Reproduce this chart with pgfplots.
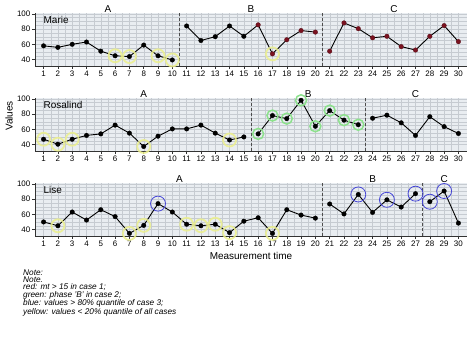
\documentclass[border=0pt]{standalone}
\usepackage{fontspec}
\setmainfont{Liberation Sans}
\usepackage{pgfplots}
\pgfplotsset{compat=1.18}
\definecolor{bgc}{RGB}{233,237,241}
\definecolor{gridc}{RGB}{198,203,209}
\definecolor{darkred}{RGB}{122,18,32}
\definecolor{yel}{RGB}{236,240,140}
\definecolor{grn}{RGB}{140,225,140}
\definecolor{blu}{RGB}{70,70,215}
\pgfplotsset{
 panel/.style={
  scale only axis, width=432bp, height=53bp,
  xmin=0.4, xmax=30.6, ymin=31.6, ymax=101,
  axis lines*=left, axis line style={-, line width=0.6pt, black!80},
  tick align=outside, major tick length=3bp, minor tick length=0pt,
  tick style={black!80, line width=0.5pt},
  xtick={1,...,30}, ytick={40,60,80,100},
  minor x tick num=1, minor y tick num=3,
  grid=both, major grid style={gridc, line width=0.35pt}, minor grid style={gridc, line width=0.3pt},
  axis background/.style={fill=bgc},
  ticklabel style={font=\fontsize{8}{9}\selectfont},
  /pgf/number format/assume math mode=true,
  xticklabel style={inner sep=1.5bp}, yticklabel style={inner sep=1.5bp},
  clip=false,
 },
 ln/.style={black, line width=0.9pt, no markers},
 pt/.style={only marks, mark=*, mark size=2.3bp, mark options={fill=black, draw=black, line width=0.3pt}},
 ptr/.style={only marks, mark=*, mark size=2.3bp, mark options={fill=darkred, draw=darkred!70!black, line width=0.3pt}},
 yc/.style={only marks, mark=o, mark size=6.5bp, mark options={draw=yel, line width=1.8pt, opacity=0.85}},
 gc/.style={only marks, mark=o, mark size=5.5bp, mark options={draw=grn, line width=1.5pt}},
 bc/.style={only marks, mark=o, mark size=7.5bp, mark options={draw=blu, line width=0.8pt}},
 ph/.style={black!70, dashed, dash pattern=on 3bp off 2bp, line width=0.8pt, no markers},
}
\newcommand{\phl}[2]{\node[anchor=base, inner sep=0pt, font=\fontsize{10}{12}\selectfont] at (axis cs:#1,101) {#2};}
\newcommand{\nm}[1]{\node[anchor=west, inner sep=0pt, font=\fontsize{10}{12}\selectfont, xshift=8.5bp, yshift=-7.3bp] at (rel axis cs:0,1) {#1};}
\begin{document}
\begin{tikzpicture}
\useasboundingbox (0,0) rectangle (474bp,-338bp);
% ---------------- Marie
\begin{axis}[panel, at={(35bp,-66bp)}, anchor=south west]
\addplot[yc] coordinates {(6,45) (7,44) (9,45) (10,39.5) (17,47.5)};
\addplot[ph] coordinates {(10.5,31.6) (10.5,101)};
\addplot[ph] coordinates {(20.5,31.6) (20.5,101)};
\addplot[ln] coordinates {(1,58) (2,56) (3,60) (4,63) (5,51) (6,45) (7,44) (8,59) (9,45) (10,39.5)};
\addplot[ln] coordinates {(11,84) (12,65) (13,70) (14,84) (15,70.5) (16,85.5) (17,47.5) (18,66) (19,78) (20,76)};
\addplot[ln] coordinates {(21,51) (22,88) (23,80.5) (24,68.5) (25,70.5) (26,57) (27,52.5) (28,70.5) (29,84.5) (30,63.5)};
\addplot[pt] coordinates {(1,58) (2,56) (3,60) (4,63) (5,51) (6,45) (7,44) (8,59) (9,45) (10,39.5) (11,84) (12,65) (13,70) (14,84) (15,70.5)};
\addplot[ptr] coordinates {(16,85.5) (17,47.5) (18,66) (19,78) (20,76) (21,51) (22,88) (23,80.5) (24,68.5) (25,70.5) (26,57) (27,52.5) (28,70.5) (29,84.5) (30,63.5)};
\phl{5.5}{A}\phl{15.5}{B}\phl{25.5}{C}
\nm{Marie}
\end{axis}
% ---------------- Rosalind
\begin{axis}[panel, at={(35bp,-151bp)}, anchor=south west]
\addplot[yc] coordinates {(1,47) (2,40.5) (3,47) (8,37.5) (14,46)};
\addplot[gc] coordinates {(16,54) (17,78) (18,74) (19,98) (20,64) (21,84.5) (22,72) (23,66)};
\addplot[ph] coordinates {(15.5,31.6) (15.5,101)};
\addplot[ph] coordinates {(23.5,31.6) (23.5,101)};
\addplot[ln] coordinates {(1,47) (2,40.5) (3,47) (4,52) (5,54) (6,65.5) (7,55) (8,37.5) (9,51) (10,60.5) (11,60.5) (12,65.5) (13,55) (14,46) (15,50)};
\addplot[ln] coordinates {(16,54) (17,78) (18,74) (19,98) (20,64) (21,84.5) (22,72) (23,66)};
\addplot[ln] coordinates {(24,74.5) (25,78.5) (26,68.5) (27,52) (28,76.5) (29,63.5) (30,54.5)};
\addplot[pt] coordinates {(1,47) (2,40.5) (3,47) (4,52) (5,54) (6,65.5) (7,55) (8,37.5) (9,51) (10,60.5) (11,60.5) (12,65.5) (13,55) (14,46) (15,50)
 (16,54) (17,78) (18,74) (19,98) (20,64) (21,84.5) (22,72) (23,66)
 (24,74.5) (25,78.5) (26,68.5) (27,52) (28,76.5) (29,63.5) (30,54.5)};
\phl{8}{A}\phl{19.5}{B}\phl{27}{C}
\nm{Rosalind}
\end{axis}
% ---------------- Lise
\begin{axis}[panel, at={(35bp,-236bp)}, anchor=south west]
\addplot[yc] coordinates {(2,45) (7,35) (8,45.5) (11,47) (12,45) (13,47) (14,36) (17,35)};
\addplot[ph] coordinates {(20.5,31.6) (20.5,101)};
\addplot[ph] coordinates {(27.5,31.6) (27.5,101)};
\addplot[ln] coordinates {(1,50) (2,45) (3,63) (4,52.5) (5,66) (6,57) (7,35) (8,45.5) (9,74) (10,63) (11,47) (12,45) (13,47) (14,36) (15,51) (16,55.5) (17,35) (18,66) (19,59) (20,55)};
\addplot[ln] coordinates {(21,73.5) (22,60.5) (23,86) (24,62.5) (25,79) (26,69.5) (27,87)};
\addplot[ln] coordinates {(28,76.5) (29,90.5) (30,48.5)};
\addplot[pt] coordinates {(1,50) (2,45) (3,63) (4,52.5) (5,66) (6,57) (7,35) (8,45.5) (9,74) (10,63) (11,47) (12,45) (13,47) (14,36) (15,51) (16,55.5) (17,35) (18,66) (19,59) (20,55)
 (21,73.5) (22,60.5) (23,86) (24,62.5) (25,79) (26,69.5) (27,87) (28,76.5) (29,90.5) (30,48.5)};
\addplot[bc] coordinates {(9,74) (23,86) (25,79) (27,87) (28,76.5) (29,90.5)};
\phl{10.5}{A}\phl{24}{B}\phl{29}{C}
\nm{Lise}
\end{axis}
\node[rotate=90, font=\fontsize{10}{12}\selectfont] at (9bp,-116bp) {Values};
\node[font=\fontsize{10}{12}\selectfont] at (251bp,-255.7bp) {Measurement time};
\node[anchor=north west, inner sep=0pt, align=left, font=\fontsize{8.3}{7}\selectfont\itshape] at (23bp,-269.3bp)
 {Note:\\Note.\\red: mt > 15 in case 1;\\green: phase 'B' in case 2;\\blue: values > 80\% quantile of case 3;\\yellow: values < 20\% quantile of all cases};
\end{tikzpicture}
\end{document}
